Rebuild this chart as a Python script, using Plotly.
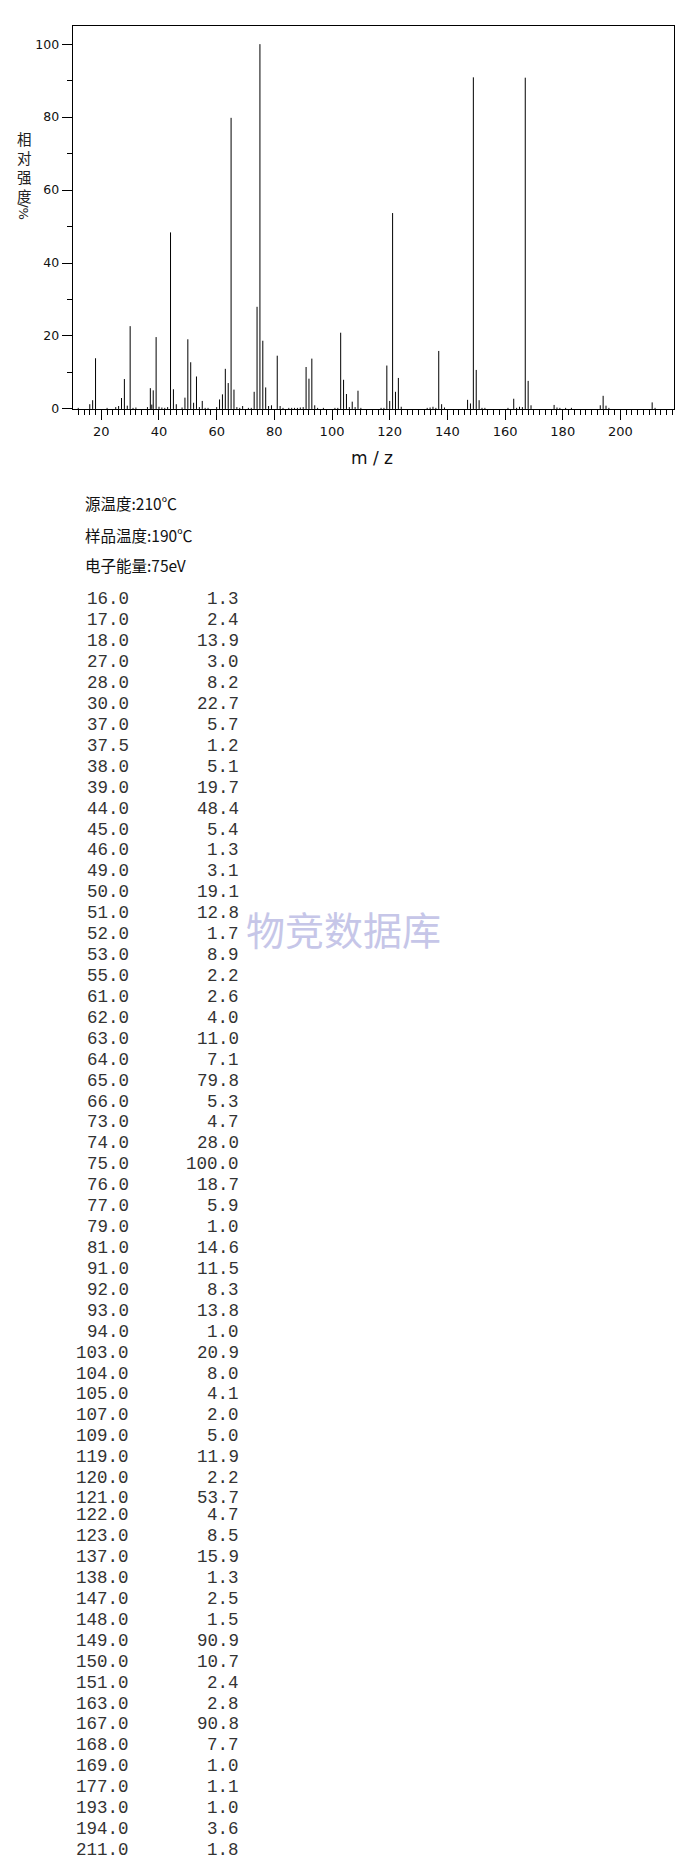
import plotly.graph_objects as go

# ---------------- data ----------------
mz = [16.0, 17.0, 18.0, 27.0, 28.0, 30.0, 37.0, 37.5, 38.0, 39.0,
      44.0, 45.0, 46.0, 49.0, 50.0, 51.0, 52.0, 53.0, 55.0, 61.0,
      62.0, 63.0, 64.0, 65.0, 66.0, 73.0, 74.0, 75.0, 76.0, 77.0,
      79.0, 81.0, 91.0, 92.0, 93.0, 94.0, 103.0, 104.0, 105.0, 107.0,
      109.0, 119.0, 120.0, 121.0, 122.0, 123.0, 137.0, 138.0, 147.0, 148.0,
      149.0, 150.0, 151.0, 163.0, 167.0, 168.0, 169.0, 177.0, 193.0, 194.0,
      211.0]
intensity = [1.3, 2.4, 13.9, 3.0, 8.2, 22.7, 5.7, 1.2, 5.1, 19.7,
             48.4, 5.4, 1.3, 3.1, 19.1, 12.8, 1.7, 8.9, 2.2, 2.6,
             4.0, 11.0, 7.1, 79.8, 5.3, 4.7, 28.0, 100.0, 18.7, 5.9,
             1.0, 14.6, 11.5, 8.3, 13.8, 1.0, 20.9, 8.0, 4.1, 2.0,
             5.0, 11.9, 2.2, 53.7, 4.7, 8.5, 15.9, 1.3, 2.5, 1.5,
             90.9, 10.7, 2.4, 2.8, 90.8, 7.7, 1.0, 1.1, 1.0, 3.6,
             1.8]

# small peaks (< 1 %) visible in the spectrum but not listed in the table
minor_mz = [12, 22, 25, 26, 29, 31, 32, 36, 40, 41, 42, 43, 48, 54, 56, 57, 60,
            67, 68, 69, 71, 72, 78, 82, 83, 85, 86, 87, 88, 89, 90, 95, 97,
            101, 102, 106, 108, 110, 117, 118, 124, 133, 134, 135, 136, 139,
            152, 153, 161, 164, 165, 166, 178, 179, 181, 183, 195, 196, 212]
minor_int = [0.3, 0.3, 0.5, 0.8, 0.9, 0.3, 0.4, 0.5, 0.6, 0.4, 0.3, 0.5, 0.4, 0.5, 0.3, 0.3, 0.5,
             0.5, 0.3, 0.8, 0.3, 0.3, 0.8, 0.8, 0.3, 0.3, 0.3, 0.3, 0.3, 0.4, 0.5, 0.3, 0.3,
             0.3, 0.3, 0.5, 0.5, 0.3, 0.3, 0.3, 0.6, 0.3, 0.4, 0.6, 0.3, 0.4,
             0.3, 0.3, 0.3, 0.3, 0.6, 0.5, 0.4, 0.3, 0.3, 0.3, 0.9, 0.3, 0.3]

info_lines = ["源温度:210℃", "样品温度:190℃", "电子能量:75eV"]
y_title_chars = ["相", "对", "强", "度"]
y_title_tail = "/%"
x_title = "m / z"
watermark = "物竞数据库"

x_range = [10.08, 218.4]
y_range = [0, 105]

# ---------------- layout helpers (pixel geometry) ----------------
W, H = 687, 1863
def px(x):
    return x / W
def py(y):
    return 1 - y / H

plot_left, plot_right = 72.7, 673.5
plot_top, plot_bottom = 26.0, 410.5

# stick spectrum
xs, ys = [], []
for m, v in list(zip(minor_mz, minor_int)) + list(zip(mz, intensity)):
    xs += [m, m, None]
    ys += [0, v, None]

fig = go.Figure()
fig.add_trace(go.Scatter(x=xs, y=ys, mode="lines",
                         line=dict(color="black", width=1),
                         hoverinfo="skip", showlegend=False))

fig.update_layout(
    width=W, height=H, autosize=False,
    margin=dict(l=0, r=0, t=0, b=0, pad=0),
    paper_bgcolor="white", plot_bgcolor="white",
    showlegend=False,
    xaxis=dict(domain=[px(plot_left), px(plot_right)], range=x_range,
               showgrid=False, zeroline=False, showline=True, mirror=True,
               linecolor="black", linewidth=1,
               ticks="outside", ticklen=10, tickwidth=1, tickcolor="black",
               tick0=0, dtick=20, tickfont=dict(family="DejaVu Sans", size=13, color="#111"),
               minor=dict(ticks="outside", ticklen=5, tickwidth=1, tickcolor="black",
                          tick0=0, dtick=2, showgrid=False)),
    yaxis=dict(domain=[py(plot_bottom), py(plot_top)], range=y_range,
               showgrid=False, zeroline=False, showline=True, mirror=True,
               linecolor="black", linewidth=1,
               ticks="outside", ticklen=10, tickwidth=1, tickcolor="black",
               tick0=0, dtick=20, tickfont=dict(family="DejaVu Sans", size=12.5, color="#111"),
               minor=dict(ticks="outside", ticklen=5, tickwidth=1, tickcolor="black",
                          tick0=0, dtick=10, showgrid=False)),
)

ann = []
# watermark
ann.append(dict(text=watermark, x=px(343.5), y=py(932), xref="paper", yref="paper",
                showarrow=False, xanchor="center", yanchor="middle",
                font=dict(family="Noto Sans CJK SC", size=39, color="rgb(198,198,232)")))
# axis titles
ann.append(dict(text="<br>".join(y_title_chars), x=px(24), y=py(168), xref="paper", yref="paper",
                showarrow=False, xanchor="center", yanchor="middle",
                font=dict(family="Noto Sans CJK SC", size=14.5, color="#222")))
ann.append(dict(text=y_title_tail, x=px(24), y=py(212), xref="paper", yref="paper",
                showarrow=False, xanchor="center", yanchor="middle", textangle=90,
                font=dict(family="DejaVu Sans", size=13, color="#222")))
ann.append(dict(text=x_title, x=px(372), y=py(460), xref="paper", yref="paper",
                showarrow=False, xanchor="center", yanchor="middle",
                font=dict(family="DejaVu Sans", size=17, color="#111")))
# info lines
info_y = [505, 536.7, 567.5]
for t, yy in zip(info_lines, info_y):
    ann.append(dict(text=t, x=px(82.5), y=py(yy), xref="paper", yref="paper",
                    showarrow=False, xanchor="left", yanchor="middle",
                    font=dict(family="Noto Sans CJK SC", size=15.5, color="#111")))
# table
row_y0, row_pitch = 601.7, 21.0
mono = dict(family="Liberation Mono", size=17.5, color="#333")
for i, (m, v) in enumerate(zip(mz, intensity)):
    yy = row_y0 + row_pitch * i
    if i == 43:
        yy -= 1.4
    elif i >= 44:
        yy -= 4.7
    ann.append(dict(text=f"{m:.1f}", x=px(130.5), y=py(yy), xref="paper", yref="paper",
                    showarrow=False, xanchor="right", yanchor="middle", font=mono))
    ann.append(dict(text=f"{v:.1f}", x=px(240.5), y=py(yy), xref="paper", yref="paper",
                    showarrow=False, xanchor="right", yanchor="middle", font=mono))
fig.update_layout(annotations=ann)

fig.write_html("out.html", config={"displayModeBar": False},
               post_script="document.body.style.margin='0';document.body.style.overflow='hidden';")
